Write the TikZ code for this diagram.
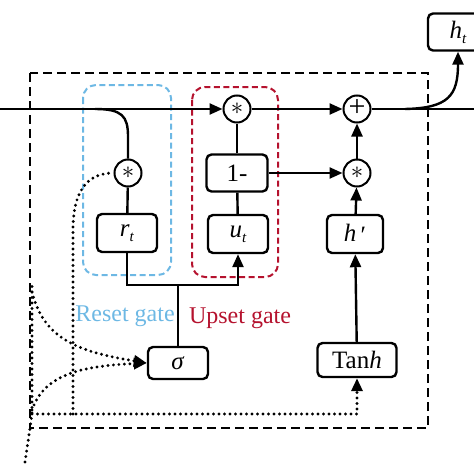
\documentclass[tikz,border=0pt]{standalone}
\usepackage{fontspec}
\setmainfont{Liberation Serif}
\usepackage{xcolor}
\usepackage{tikz}
\usetikzlibrary{positioning, arrows.meta, calc}
\definecolor{resetblue}{HTML}{6DB8E4}
\definecolor{upsetred}{HTML}{B5122E}

\tikzset{
  gatebox/.style={draw, line width=2.4pt, rounded corners=5pt, inner sep=0pt,
                  minimum width=60pt, minimum height=38pt, font=\fontsize{25}{28}\selectfont},
  opnode/.style={draw, circle, line width=2pt, inner sep=0pt, minimum size=27pt,
                 font=\fontsize{30}{30}\selectfont},
  flow/.style={line width=2.4pt},
  arr/.style={flow, -{Triangle[length=13pt,width=11pt]}},
  inflow/.style={line width=3.2pt, line cap=round, dash pattern=on 0pt off 5.5pt},
  inarr/.style={inflow, -{Triangle[length=13pt,width=11pt]}},
  gatearea/.style={line width=2pt, rounded corners=13pt, dash pattern=on 6pt off 3.5pt},
}

\begin{document}
\begin{tikzpicture}[x=1pt, y=-1pt]
    \useasboundingbox (0,0) rectangle (474,474);

    % cell border and gate areas
    \draw[line width=2.6pt, dash pattern=on 9pt off 5pt] (30,73) rectangle (428,428);
    \draw[gatearea, resetblue] (83,85) rectangle (171,275);
    \draw[gatearea, upsetred] (192,87) rectangle (278,277);

    % operators
    \node[opnode] (rs) at (128,173) {$\ast$};
    \node[opnode] (us) at (237,109) {$\ast$};
    \node[opnode] (plus) at (357,109) {\raisebox{1pt}{+}};
    \node[opnode] (ms) at (357,173) {$\ast$};

    % boxes
    \node[gatebox] (rt) at (127,233) {\textit{r}\raisebox{-5pt}{\fontsize{15}{15}\selectfont\textit{t}}};
    \node[gatebox] (ut) at (238,234) {\textit{u}\raisebox{-5pt}{\fontsize{15}{15}\selectfont\textit{t}}};
    \node[gatebox, minimum width=61pt, minimum height=37pt] (one) at (237,173) {1-};
    \node[gatebox, minimum width=56pt] (hp) at (355,234) {\textit{h}\,\raisebox{-2pt}{′}};
    \node[gatebox, minimum height=32pt] (sg) at (178,363) {\textit{σ}};
    \node[gatebox, minimum width=79pt, minimum height=34pt] (tanh) at (357,360) {Tan\textit{h}};
    \node[gatebox, minimum height=37pt] (ht) at (458,32) {\textit{h}\raisebox{-5pt}{\fontsize{15}{15}\selectfont\textit{t}}};

    % gate labels
    \node[text=resetblue, font=\fontsize{24}{28}\selectfont] (rlab) at (125,316) {Reset gate};
    \node[text=upsetred, font=\fontsize{24}{28}\selectfont] (ulab) at (240,318) {Upset gate};

    % hidden state flow
    \coordinate (hin) at (0,109);
    \coordinate (split) at (95,109);
    \coordinate (hout) at (474,109);
    \coordinate (rise) at (405,109);
    \coordinate (gj) at (178,285);
    \draw[arr] (hin) -- (us);
    \draw[flow] (split) .. controls (122,109) and (128,116) .. ($(rs.north)+(0,-22)$) -- (rs.north);
    \draw[flow] (rs) -- (rt);
    \draw[arr] (rt.south) |- (gj) -| (ut.south);
    \draw[flow] (sg.north) -- (gj);
    \draw[flow] (ut) -- (one);
    \draw[flow] (one) -- (us);
    \draw[arr] (one) -- (ms);
    \draw[arr] (us) -- (plus);
    \draw[arr] (ms) -- (plus);
    \draw[arr] (hp) -- (ms);
    \draw[arr] (tanh) -- (hp);
    \draw[flow] (plus) -- (hout);
    \draw[arr] (rise) .. controls (448,108) and (458,96) .. (ht.south);

    % input flow
    \coordinate (xin) at (25,462);
    \coordinate (xlow) at (32,414);
    \coordinate (xtop) at (32,285);
    \coordinate (xmid) at (73,414);
    \draw[inflow] (xin) -- (30,428) -- (xlow) -- (xtop);
    \draw[inarr] (32,292) .. controls (44,340) and (80,352) .. (sg.west);
    \draw[inarr] (32,410) .. controls (44,375) and (80,366) .. (sg.west);
    \draw[inarr] (xlow) -| (tanh.south);
    \draw[inflow] (xmid) -- (73,230) .. controls (73,185) and (92,173) .. (rs.west);
\end{tikzpicture}
\end{document}
